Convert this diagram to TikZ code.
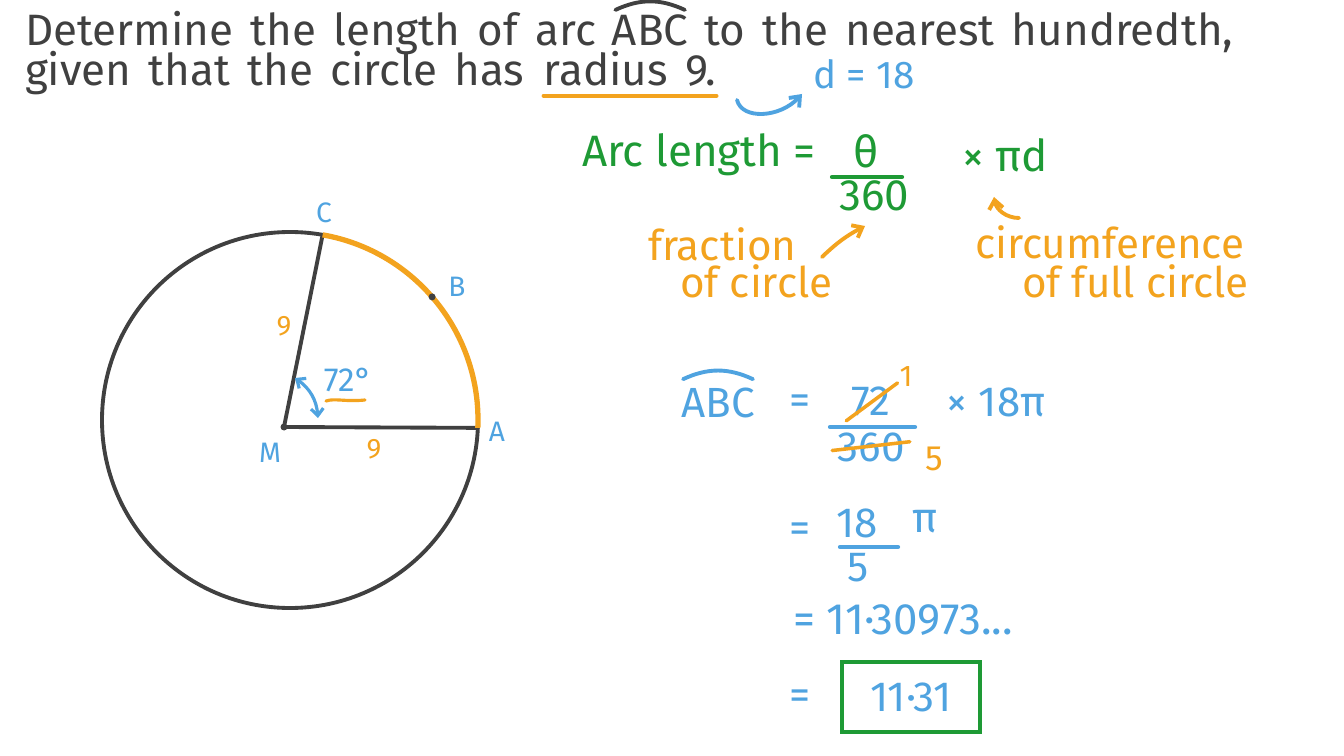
\documentclass[tikz,border=0pt]{standalone}
\usepackage{fontspec}
\setmainfont{Fira Sans}
\newfontfamily\titlefont[WordSpace=1.5]{Fira Sans}
\usetikzlibrary{arrows.meta}
\definecolor{ink}{HTML}{404040}
\definecolor{bl}{HTML}{4FA3E0}
\definecolor{og}{HTML}{F3A31E}
\definecolor{gr}{HTML}{1E9A35}
\begin{document}
\begin{tikzpicture}[x=0.02cm,y=0.02cm,
  every node/.style={inner sep=0pt, outer sep=0pt},
  title/.style={text=ink, font=\titlefont\fontsize{25}{29}\selectfont, anchor=base west},
  lbl/.style={text=bl, font=\fontsize{16}{18}\selectfont},
  num/.style={text=og, font=\fontsize{16}{18}\selectfont},
  eqb/.style={text=bl, font=\fontsize{24}{28}\selectfont},
  eqg/.style={text=gr, font=\fontsize{25}{29}\selectfont},
  note/.style={text=og, font=\fontsize{24}{28}\selectfont},
  pen/.style={line width=2.2pt, line cap=round, line join=round},
  tip/.style={-{Straight Barb[length=5pt,width=8pt]}},
  strike/.style={og, line width=2pt, line cap=round}
]
\useasboundingbox[fill=white] (0,0) rectangle (1344,-756);

% ---- title ----
\node[title] (t1a) at (25,-46) {Determine the length of arc};
\node[title] (t1b) at ([xshift=9pt]t1a.base east) {ABC};
\node[title] (t1c) at ([xshift=9pt]t1b.base east) {to the nearest hundredth,};
\draw[ink, pen] ([xshift=2pt,yshift=3pt]t1b.north west) to[bend left=25] ([xshift=-2pt,yshift=3pt]t1b.north east);
\node[title] (t2a) at (25,-86) {given that the circle has};
\node[title] (t2b) at ([xshift=11pt]t2a.base east) {radius 9.};
\draw[og, line width=2.4pt, line cap=round] ([yshift=-5pt]t2b.south west) -- ([yshift=-5pt]t2b.south east);

% ---- d = 18 ----
\node[eqb, font=\fontsize{22}{26}\selectfont] (d) at (864,-74) {d = 18};
\coordinate (ds) at (737,-100);
\coordinate (de) at (802,-94);
\draw[bl, pen, tip] (ds) .. controls (742,-120) and (780,-118) .. (de);

% ---- circle ----
\coordinate (O) at (290,-420);
\coordinate (M) at (284,-427);
\path (O) ++(-2.4:188) coordinate (A);
\path (O) ++(80:188) coordinate (C);
\path (O) ++(40.9:188) coordinate (B);
\draw[ink, pen] (O) circle[radius=188];
\draw[ink, pen] (C) -- (M) -- (A);
\draw[og, line width=3pt] (A) arc[start angle=-2.4, end angle=80, radius=188];
\fill[ink] (M) circle[radius=3.5];
\fill[ink] (B) circle[radius=3.5];
\node[lbl] (lC) at (324,-213) {C};
\node[lbl] (lB) at (457,-287) {B};
\node[lbl] (lA) at (497,-432) {A};
\node[lbl] (lM) at (270,-453) {M};
\node[num] (n1) at (284,-326) {9};
\node[num] (n2) at (374,-449) {9};
\node[lbl, font=\fontsize{19}{22}\selectfont] (ang) at (348,-380) {72°};
\draw[og, line width=1.8pt, line cap=round] (326,-401) .. controls (335,-398) and (345,-402) .. (365,-400);
\coordinate (a1) at (295,-378);
\coordinate (a2) at (318,-418);
\draw[bl, line width=1.8pt, {Straight Barb[length=4pt,width=7pt]}-{Straight Barb[length=4pt,width=7pt]}] (a1) to[bend left=25] (a2);

% ---- formula ----
\node[eqg] (al) at (699,-155) {Arc length =};
\node[eqg] (th) at (866,-151) {θ};
\node[eqg] (f360) at (874,-196) {360};
\draw[gr, line width=2.4pt, line cap=round] (832,-177) -- (902,-177);
\node[eqg] (pd) at (1005,-155) {× πd};

\node[note, anchor=west] (fr1) at (648,-244) {fraction};
\node[note, anchor=west] (fr2) at (680,-281) {of circle};
\coordinate (fa1) at (822,-257);
\coordinate (fa2) at (865,-226);
\draw[og, pen, tip] (fa1) to[bend left=8] (fa2);
\node[note, anchor=west] (ci1) at (975,-242) {circumference};
\node[note, anchor=west] (ci2) at (1022,-281) {of full circle};
\coordinate (ca1) at (1019,-218);
\coordinate (ca2) at (994,-197);
\draw[og, pen, tip] (ca1) to[bend left=40] (ca2);

% ---- working ----
\node[eqb] (abc) at (718,-403) {ABC};
\draw[bl, pen] ([xshift=1pt,yshift=5pt]abc.north west) to[bend left=25] ([xshift=-1pt,yshift=5pt]abc.north east);
\node[eqb] (e1) at (800,-405) {=};
\node[eqb] (n72) at (871,-401) {72};
\draw[strike] ([xshift=-3pt,yshift=-3pt]n72.south west) -- ([xshift=4pt,yshift=2pt]n72.north east);
\node[num, font=\fontsize{17}{20}\selectfont] (one) at (906,-377) {1};
\draw[bl, line width=2.4pt, line cap=round] (830,-427) -- (915,-427);
\node[eqb] (n360) at (871,-447) {360};
\draw[strike] ([xshift=-3pt,yshift=-2pt]n360.west) -- ([xshift=3pt,yshift=3pt]n360.east);
\node[num, font=\fontsize{20}{23}\selectfont] (five) at (934,-459) {5};
\node[eqb] (x18) at (996,-402) {× 18π};

\node[eqb] (e2) at (800,-533) {=};
\node[eqb] (n18) at (857,-523) {18};
\draw[bl, line width=2.4pt, line cap=round] (840,-547) -- (898,-547);
\node[eqb] (n5) at (858,-568) {5};
\node[eqb] (pi2) at (925,-522) {π};

\node[eqb, anchor=west, font=\fontsize{25}{29}\selectfont] (e3) at (793,-620) {= 11·30973...};

\node[eqb] (e4) at (800,-700) {=};
\node[draw=gr, line width=2.6pt, minimum width=138*0.02cm, minimum height=70*0.02cm] (box) at (911,-697) {};
\node[eqb] (ans) at (box.center) {11·31};
\end{tikzpicture}
\end{document}
